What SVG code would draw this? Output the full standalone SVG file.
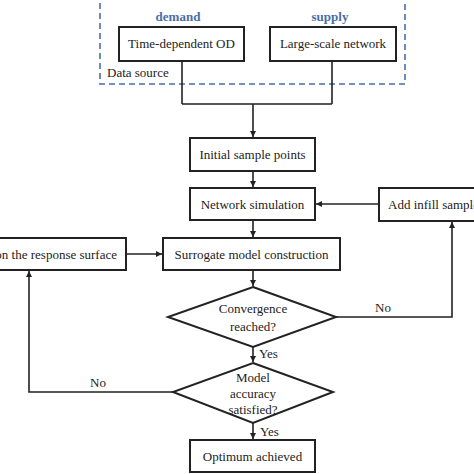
<svg xmlns="http://www.w3.org/2000/svg" width="474" height="474" viewBox="0 0 474 474">
<style>
.box{fill:#fff;stroke:#222;stroke-width:2}
.ln{fill:none;stroke:#222;stroke-width:1.6}
.t{font-family:"Liberation Serif","Times New Roman",serif;font-size:13px;fill:#222;text-anchor:middle}
.hd{font-family:"Liberation Serif","Times New Roman",serif;font-size:13px;font-weight:bold;fill:#4a6ea8;text-anchor:middle}
</style>
<defs>
<marker id="ah" viewBox="0 0 10 10" refX="10" refY="5" markerWidth="6" markerHeight="6" markerUnits="userSpaceOnUse" orient="auto">
<path d="M0,0 L10,5 L0,10 z" fill="#222"/>
</marker>
</defs>
<rect width="474" height="474" fill="#fff"/>
<g id="datasource">
<rect x="100" y="-1" width="305" height="85" fill="none" stroke="#4a6ea8" stroke-width="1.6" stroke-dasharray="6,4"/>
<text class="t" x="107" y="77" style="text-anchor:start">Data source</text>
<text class="hd" x="178" y="21">demand</text>
<text class="hd" x="330" y="21">supply</text>
</g>
<g id="od"><rect class="box" x="119" y="27" width="125" height="34"/><text class="t" x="181.5" y="48">Time-dependent OD</text></g>
<g id="network"><rect class="box" x="270" y="27" width="126" height="34"/><text class="t" x="333" y="48">Large-scale network</text></g>
<g id="initial"><rect class="box" x="190" y="138" width="125" height="33"/><text class="t" x="252.5" y="159">Initial sample points</text></g>
<g id="netsim"><rect class="box" x="190" y="188" width="125" height="32"/><text class="t" x="252.5" y="209">Network simulation</text></g>
<g id="infill"><rect class="box" x="379" y="188" width="110" height="33"/><text class="t" x="388" y="209" style="text-anchor:start">Add infill samples</text></g>
<g id="surrogate"><rect class="box" x="163" y="238" width="177" height="32"/><text class="t" x="251.5" y="259">Surrogate model construction</text></g>
<g id="search"><rect class="box" x="-10" y="238" width="136" height="32"/><text class="t" x="117" y="259" style="text-anchor:end">Search on the response surface</text></g>
<g id="conv"><polygon class="box" points="253,287 336,317 253,347 168,317"/><text class="t" x="253" y="313">Convergence</text><text class="t" x="253" y="331">reached?</text></g>
<g id="acc"><polygon class="box" points="253,363 333,392 253,423 173,392"/><text class="t" x="253" y="382">Model</text><text class="t" x="253" y="398">accuracy</text><text class="t" x="253" y="414">satisfied?</text></g>
<g id="optimum"><rect class="box" x="190" y="440" width="125" height="32"/><text class="t" x="252.5" y="461">Optimum achieved</text></g>
<g id="connectors">
<path class="ln" d="M182,61 V104 M332,61 V104 M182,104 H332"/>
<path class="ln" d="M253,104 V137" marker-end="url(#ah)"/>
<path class="ln" d="M253,171 V187" marker-end="url(#ah)"/>
<path class="ln" d="M379,204 H316" marker-end="url(#ah)"/>
<path class="ln" d="M253,220 V237" marker-end="url(#ah)"/>
<path class="ln" d="M126,254 H162" marker-end="url(#ah)"/>
<path class="ln" d="M253,270 V286" marker-end="url(#ah)"/>
<path class="ln" d="M336,317 H452 V222" marker-end="url(#ah)"/>
<path class="ln" d="M253,347 V362" marker-end="url(#ah)"/>
<path class="ln" d="M173,392 H29 V271" marker-end="url(#ah)"/>
<path class="ln" d="M253,423 V439" marker-end="url(#ah)"/>
<text class="t" x="383" y="312">No</text>
<text class="t" x="98" y="387">No</text>
<text class="t" x="259" y="358" style="text-anchor:start">Yes</text>
<text class="t" x="260" y="436" style="text-anchor:start">Yes</text>
</g>
</svg>
